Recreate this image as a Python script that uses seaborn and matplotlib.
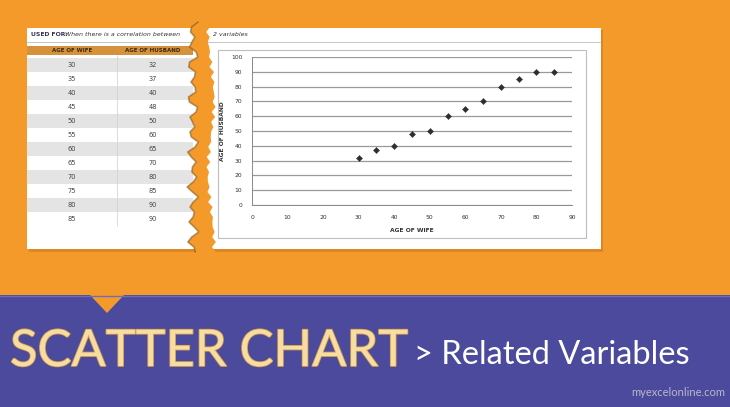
import numpy as np
import pandas as pd
import matplotlib
matplotlib.use("Agg")
import matplotlib.pyplot as plt
import matplotlib.patheffects as pe
from matplotlib.patches import Rectangle, Polygon
import seaborn as sns

age_wife = [30, 35, 40, 45, 50, 55, 60, 65, 70, 75, 80, 85]
age_husband = [32, 37, 40, 48, 50, 60, 65, 70, 80, 85, 90, 90]
col_headers = ["AGE OF WIFE", "AGE OF HUSBAND"]
x_ticks = list(range(0, 91, 10))
y_ticks = list(range(0, 101, 10))

df = pd.DataFrame({"AGE OF WIFE": age_wife, "AGE OF HUSBAND": age_husband})

ORANGE = "#F39A2B"
PURPLE = "#4B4A9C"
W, H = 730, 407

sns.set_theme(style="white")
plt.rcParams["font.family"] = ["DejaVu Sans"]

fig = plt.figure(figsize=(W / 100, H / 100), dpi=100)
fig.patch.set_facecolor(ORANGE)

# --- fondo en coordenadas de pixel ---
bg = fig.add_axes([0, 0, 1, 1], zorder=0)
bg.set_xlim(0, W)
bg.set_ylim(H, 0)
bg.axis("off")

# hoja blanca con sombra
bg.add_patch(Rectangle((29, 30), 574, 222, color="#C9741E", alpha=0.5, lw=0))
bg.add_patch(Rectangle((27, 28), 574, 221, color="white", lw=0))

# fila "USED FOR" (cortada por el rasgado)
bg.text(31, 35, "USED FOR:", fontsize=4.4, fontweight="bold", color="#333355", va="center")
bg.text(65, 35, "When there is a correlation between", fontsize=4.5,
        style="italic", color="#333333", va="center")
bg.text(213, 35, "2 variables", fontsize=4.5, style="italic", color="#333333", va="center")
bg.plot([27, 600], [42, 42], color="#BBBBBB", lw=0.6)

# cabecera de columnas
bg.add_patch(Rectangle((27, 46), 166, 9, color="#D6913D", lw=0))
col_x = [72, 153]
for cx, h in zip(col_x, col_headers):
    bg.text(cx, 50.5, h, fontsize=4, fontweight="bold", color="#3A2A10", ha="center", va="center")

# filas de la tabla
for i, (w, hb) in enumerate(zip(age_wife, age_husband)):
    yc = 65 + 14 * i
    if i % 2 == 0:
        bg.add_patch(Rectangle((27, yc - 7), 166, 14, color="#E4E4E4", lw=0))
    bg.text(col_x[0], yc, str(w), fontsize=4.8, color="#444444", ha="center", va="center")
    bg.text(col_x[1], yc, str(hb), fontsize=4.8, color="#444444", ha="center", va="center")
bg.plot([117, 117], [55, 226], color="#D0D0D0", lw=0.5)

# recuadro del grafico
bg.add_patch(Rectangle((218, 50), 368, 188, fill=False, ec="#BDBDBD", lw=0.8))

# rasgado naranja entre tabla y grafico
ys = np.arange(22, 256, 5)
left_edge = 193 + 4 * np.sin(ys * 0.9) + 2 * np.cos(ys * 2.3)
right_edge = 211 + 3 * np.sin(ys * 1.3 + 1) + 2 * np.cos(ys * 0.7)
pts = list(zip(left_edge, ys)) + list(zip(right_edge[::-1], ys[::-1]))
bg.add_patch(Polygon(pts, closed=True, color=ORANGE, lw=0, zorder=5))
bg.plot(left_edge, ys, color="#8A5A20", lw=1.2, alpha=0.6, zorder=6)

# banda morada inferior
bg.add_patch(Rectangle((0, 295), W, 112, color=PURPLE, lw=0))
bg.plot([0, W], [295.5, 295.5], color="#6E6DB8", lw=1)
bg.add_patch(Polygon([(89, 294), (125, 294), (107, 313)], closed=True, color=ORANGE, lw=0))

bg.text(10, 352, "SCATTER CHART", fontsize=36.5, family="Lato", color="#F6DDA4",
        va="center", ha="left",
        path_effects=[pe.withStroke(linewidth=1.2, foreground="#D9A048")])
bg.text(414, 355, "> Related Variables", fontsize=23.5, family="Lato", color="white",
        va="center", ha="left")
bg.text(725, 392, "myexcelonline.com", fontsize=8, color="#B8B8CC", ha="right", va="center",
        family="Lato")

# --- grafico de dispersion ---
ax = fig.add_axes([252 / W, 1 - 205 / H, 320 / W, 148 / H], zorder=2)
ax.set_facecolor("white")
sns.scatterplot(data=df, x="AGE OF WIFE", y="AGE OF HUSBAND", ax=ax, marker="D",
                s=10, color="#2E2E2E", edgecolor="#2E2E2E", zorder=3)
ax.set_xlim(0, 90)
ax.set_ylim(0, 100)
ax.set_xticks(x_ticks)
ax.set_yticks(y_ticks)
ax.yaxis.grid(True, color="#9A9A9A", lw=0.9)
ax.xaxis.grid(False)
for s in ["top", "right"]:
    ax.spines[s].set_visible(False)
ax.spines["left"].set_color("#888888")
ax.spines["bottom"].set_color("#888888")
ax.spines["left"].set_linewidth(0.7)
ax.spines["bottom"].set_linewidth(0.7)
ax.tick_params(axis="both", labelsize=4.3, colors="#333333", length=2, width=0.5, pad=5)
ax.set_xlabel("AGE OF WIFE", fontsize=4.3, fontweight="bold", color="#333333", labelpad=6)
ax.set_ylabel("AGE OF HUSBAND", fontsize=4.3, fontweight="bold", color="#333333", labelpad=4)

fig.savefig("out.png", dpi=100, facecolor=ORANGE)
